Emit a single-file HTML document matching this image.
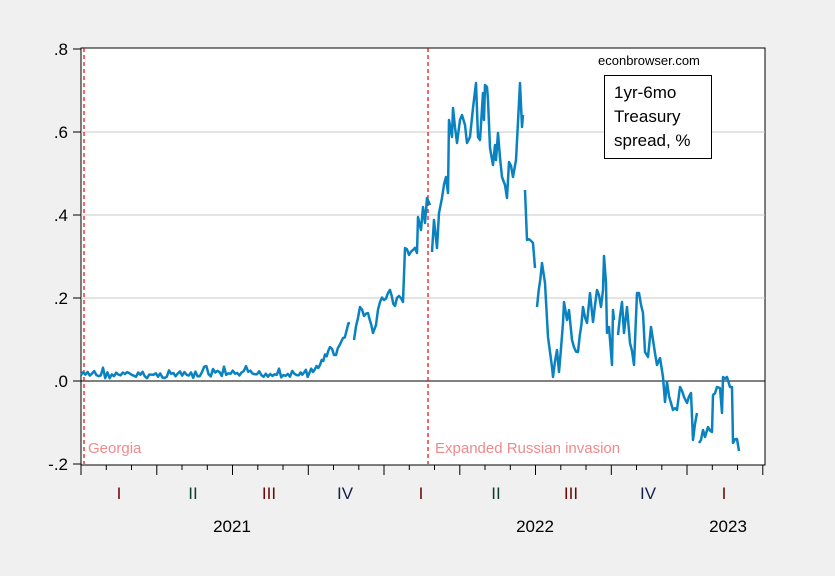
<!DOCTYPE html>
<html><head><meta charset="utf-8"><style>body{margin:0;background:#f0f0f0}svg{display:block;font-family:"Liberation Sans",sans-serif}</style></head>
<body>
<svg id="s" width="835" height="576" xmlns="http://www.w3.org/2000/svg">
<rect x="0" y="0" width="835" height="576" fill="#f0f0f0"/>
<rect x="81" y="48" width="684" height="417" fill="#fff" stroke="#000" stroke-width="1"/>
<g stroke="#c8c8c8" stroke-width="1">
<line x1="81" y1="132" x2="765" y2="132"/><line x1="81" y1="215" x2="765" y2="215"/><line x1="81" y1="298" x2="765" y2="298"/>
</g>
<line x1="81" y1="381" x2="765" y2="381" stroke="#000" stroke-width="1"/>
<g stroke="#000"><line x1="73" y1="49" x2="81" y2="49"/><line x1="73" y1="132" x2="81" y2="132"/><line x1="73" y1="215" x2="81" y2="215"/><line x1="73" y1="298" x2="81" y2="298"/><line x1="73" y1="381" x2="81" y2="381"/><line x1="73" y1="464" x2="81" y2="464"/></g>
<g font-size="17" text-anchor="end" fill="#000">
<text x="68" y="55">.8</text><text x="68" y="138">.6</text><text x="68" y="221">.4</text><text x="68" y="304">.2</text><text x="68" y="387">.0</text><text x="68" y="470">-.2</text>
</g>
<g id="ticks" stroke="#000"></g>
<g font-size="17" text-anchor="middle">
<text x="119" y="499" fill="#6a0a0a">I</text><text x="193" y="499" fill="#0a3f30">II</text><text x="269" y="499" fill="#6a0a0a">III</text><text x="345" y="499" fill="#15204a">IV</text>
<text x="421" y="499" fill="#6a0a0a">I</text><text x="496" y="499" fill="#0a3f30">II</text><text x="571" y="499" fill="#6a0a0a">III</text><text x="648" y="499" fill="#15204a">IV</text><text x="724" y="499" fill="#6a0a0a">I</text>
<text x="232" y="532" fill="#000">2021</text><text x="535" y="532" fill="#000">2022</text><text x="728" y="532" fill="#000">2023</text>
</g>
<g stroke="#e00" stroke-width="1.2" stroke-dasharray="4,3"><line x1="84" y1="48" x2="84" y2="464"/><line x1="428" y1="48" x2="428" y2="464"/></g>
<g font-size="15" fill="#f08a8a"><text x="88" y="453">Georgia</text><text x="435" y="453">Expanded Russian invasion</text></g>
<text x="598" y="65" font-size="13">econbrowser.com</text>
<rect x="604.5" y="75.5" width="107" height="83" fill="#fff" stroke="#000"/>
<g font-size="17"><text x="614" y="98">1yr-6mo</text><text x="614" y="122">Treasury</text><text x="614" y="146">spread, %</text></g>
<g id="series" fill="none" stroke="#0a82c0" stroke-width="2.5" stroke-linejoin="round"></g>
</svg>
<script>
var NS="http://www.w3.org/2000/svg";
var t=document.getElementById("ticks");
function ln(x,y1,y2){var l=document.createElementNS(NS,"line");l.setAttribute("x1",x);l.setAttribute("x2",x);l.setAttribute("y1",y1);l.setAttribute("y2",y2);t.appendChild(l);}
for(var m=0;m<=27;m++){var x=81+m*303/12;ln(x.toFixed(1),465,m%3==0?475:470);}
var seed=7;function r(){seed=(seed*9301+49297)%233280;return seed/233280;}
var segs=[];var a=[];
for(var x=81;x<=300;x+=2.2){var b=x<200?375:374;a.push([x,b+(r()-0.5)*7-(r()<0.08?5:0)]);}
a.push([313,372]);a.push([320,365]);a.push([330,347]);a.push([336,355]);a.push([343,338]);a.push([350,323]);segs.push(a);
segs.push([[354,340],[360,307],[364,316],[368,313],[373,333],[376,325],[380,302],[384,300],[390,290],[395,306],[399,296],[403,302],[405,248],[409,255],[413,250],[417,253],[418,217],[421,230],[423,207],[425,223],[427,198],[430,205]]);
segs.push([[432,252],[434,220],[437,248],[439,213],[442,198],[446,177],[448,193],[449,120],[452,137],[453,108],[457,143],[460,120],[462,115],[465,125],[467,143],[470,137],[473,108],[476,83],[478,137],[480,140],[483,93],[484,120],[485,85],[487,87],[488,100],[490,148],[493,165],[495,145],[496,160],[498,133],[502,177],[505,185],[507,198],[509,162],[513,177],[516,160],[520,83],[522,127],[523,115]]);
segs.push([[525,190],[527,240],[533,243],[535,268]]);
segs.push([[537,307],[542,263],[545,283],[548,337],[552,367],[553,377],[557,350],[559,372],[563,323],[564,302],[567,320],[569,310],[572,340],[578,352],[583,307],[587,323],[590,293],[593,322],[597,290],[601,307],[603,290],[604,256],[606,283],[607,333],[609,327],[612,365],[613,310],[614,320]]);
segs.push([[618,335],[622,302],[624,333],[627,307],[630,343],[634,365],[637,293],[639,293],[643,313],[645,352],[648,357],[651,327],[653,340],[657,365],[660,358],[663,377],[665,402],[667,382],[671,403],[673,410],[677,410],[680,387],[684,397],[687,403],[691,393],[693,440],[697,413]]);
segs.push([[699,443],[703,430],[705,437],[708,427],[712,432],[713,395],[717,387],[720,388],[722,413],[723,377],[727,377],[730,387],[732,387],[733,443],[737,439],[739,451]]);
function rough(s,start){var o=[];for(var i=0;i<s.length;i++){o.push(s[i]);if(i<s.length-1&&i>=start){var p=s[i],q=s[i+1],d=q[0]-p[0];if(d>=3){var n=Math.floor(d/1.6);for(var k=1;k<n;k++){var f=k/n;o.push([p[0]+d*f,p[1]+(q[1]-p[1])*f+(r()-0.5)*8]);}}}}return o;}
var g=document.getElementById("series");
segs.forEach(function(s,i){if(i==0){s=rough(s,s.length-7);}else s=rough(s,0);var p=document.createElementNS(NS,"polyline");p.setAttribute("points",s.map(function(q){return q[0].toFixed(1)+","+q[1].toFixed(1)}).join(" "));g.appendChild(p);});
</script>
</body></html>
